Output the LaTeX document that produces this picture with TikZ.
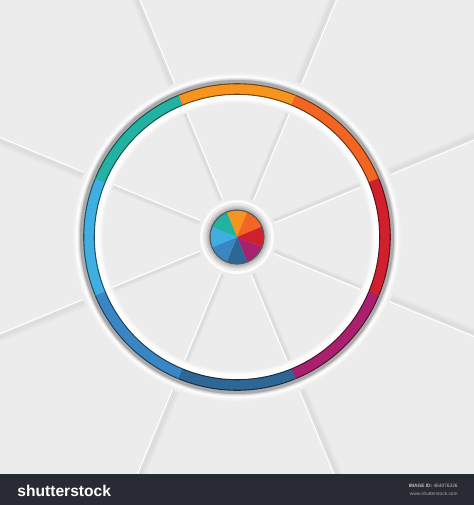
\documentclass[tikz,border=0pt]{standalone}
\usepackage{fontspec}
\setmainfont{Liberation Sans}
\usetikzlibrary{calc, positioning}
\definecolor{panelgray}{rgb}{0.925, 0.925, 0.925}
\definecolor{barslate}{rgb}{0.157, 0.169, 0.204}
\definecolor{segorange}{HTML}{F7941D}
\definecolor{segflame}{HTML}{F26522}
\definecolor{segred}{HTML}{D0202E}
\definecolor{segmagenta}{HTML}{A8206E}
\definecolor{segnavy}{HTML}{2E6796}
\definecolor{segblue}{HTML}{3A85C4}
\definecolor{segsky}{HTML}{3FAEE0}
\definecolor{segteal}{HTML}{22B2A2}

\begin{document}
\begin{tikzpicture}[x=0.5pt, y=0.5pt,
    crease/.style={draw=black!14, line width=0.4pt},
    creaseshade/.style={draw=black, line width=0.6pt},
    creaselight/.style={draw=white, line width=0.7pt, opacity=0.9},
    ]
\useasboundingbox (-237, -268) rectangle (237, 237);
\fill[panelgray] (-237, -237) rectangle (237, 237);

\begin{scope}
    \clip (-237, -237) rectangle (237, 237);
    \foreach \a in {22.5, 67.5, ..., 337.5} {
        \foreach \d/\o in {1.5/0.08, 3/0.06, 4.5/0.04, 6/0.02} {
            \draw[creaseshade, opacity=\o] ($(\a:166)+({\a+90}:\d)$) -- ($(\a:420)+({\a+90}:\d)$);
            \draw[creaseshade, opacity=\o*0.6] ($(\a:40)+({\a+90}:\d*0.6)$) -- ($(\a:134)+({\a+90}:\d*0.6)$);
        }
        \draw[creaselight] ($(\a:166)+({\a-90}:1.2)$) -- ($(\a:420)+({\a-90}:1.2)$);
        \draw[creaselight] ($(\a:40)+({\a-90}:1.2)$) -- ($(\a:134)+({\a-90}:1.2)$);
        \draw[crease] (\a:166) -- (\a:420);
        \draw[crease] (\a:40) -- (\a:134);
    }
\end{scope}

\foreach \w/\o in {15/0.25, 13.5/0.45, 12/0.8} {
    \draw[white, opacity=\o, line width=\w pt] (0, 0) circle (149);
}
\foreach \w/\o in {8.5/0.06, 7.5/0.08, 6.5/0.11, 6/0.12} {
    \draw[black, opacity=\o, line width=\w pt] (0, 0) circle (151);
}
\foreach \a/\c in {90/segorange, 45/segflame, 0/segred, -45/segmagenta,
                   -90/segnavy, -135/segblue, 180/segsky, 135/segteal} {
    \draw[\c!45!black, line width=5.8pt] ({\a-22.5}:148)
        arc[start angle=\a-22.5, end angle=\a+22.5, radius=148];
}
\foreach \a/\c in {90/segorange, 45/segflame, 0/segred, -45/segmagenta,
                   -90/segnavy, -135/segblue, 180/segsky, 135/segteal} {
    \draw[\c, line width=4.7pt] ({\a-22.5}:148)
        arc[start angle=\a-22.5, end angle=\a+22.5, radius=148];
}

\node[circle, fill=white, opacity=0.8, minimum size=37pt, inner sep=0pt] (halo) at (0, 0) {};
\fill[black, opacity=0.07] (halo.center) circle (34);
\fill[black, opacity=0.1] (halo.center) circle (31.5);
\fill[black, opacity=0.12] (halo.center) circle (29.5);
\foreach \a/\c in {90/segorange, 45/segflame, 0/segred, -45/segmagenta,
                   -90/segnavy, -135/segblue, 180/segsky, 135/segteal} {
    \fill[\c] (halo.center) -- ({\a-22.5}:27)
        arc[start angle=\a-22.5, end angle=\a+22.5, radius=27] -- cycle;
}
\node[circle, draw=black!65, line width=0.6pt, minimum size=27pt, inner sep=0pt] (hub) at (0, 0) {};

\fill[barslate] (-237, -237) rectangle (237, -268);
\node[anchor=base west, text=white, inner sep=0pt,
      font=\bfseries\fontsize{7.8}{8}\selectfont] (brand) at (-220, -259) {shutterstock};
\node[anchor=base east, text=black!25, inner sep=0pt,
      font=\fontsize{2.4}{3}\selectfont] (imgid) at (221, -250) {\textbf{IMAGE ID:} 464076326};
\node[anchor=base east, text=black!35, inner sep=0pt,
      font=\fontsize{2.4}{3}\selectfont] (site) at (221, -258) {www.shutterstock.com};
\end{tikzpicture}
\end{document}
